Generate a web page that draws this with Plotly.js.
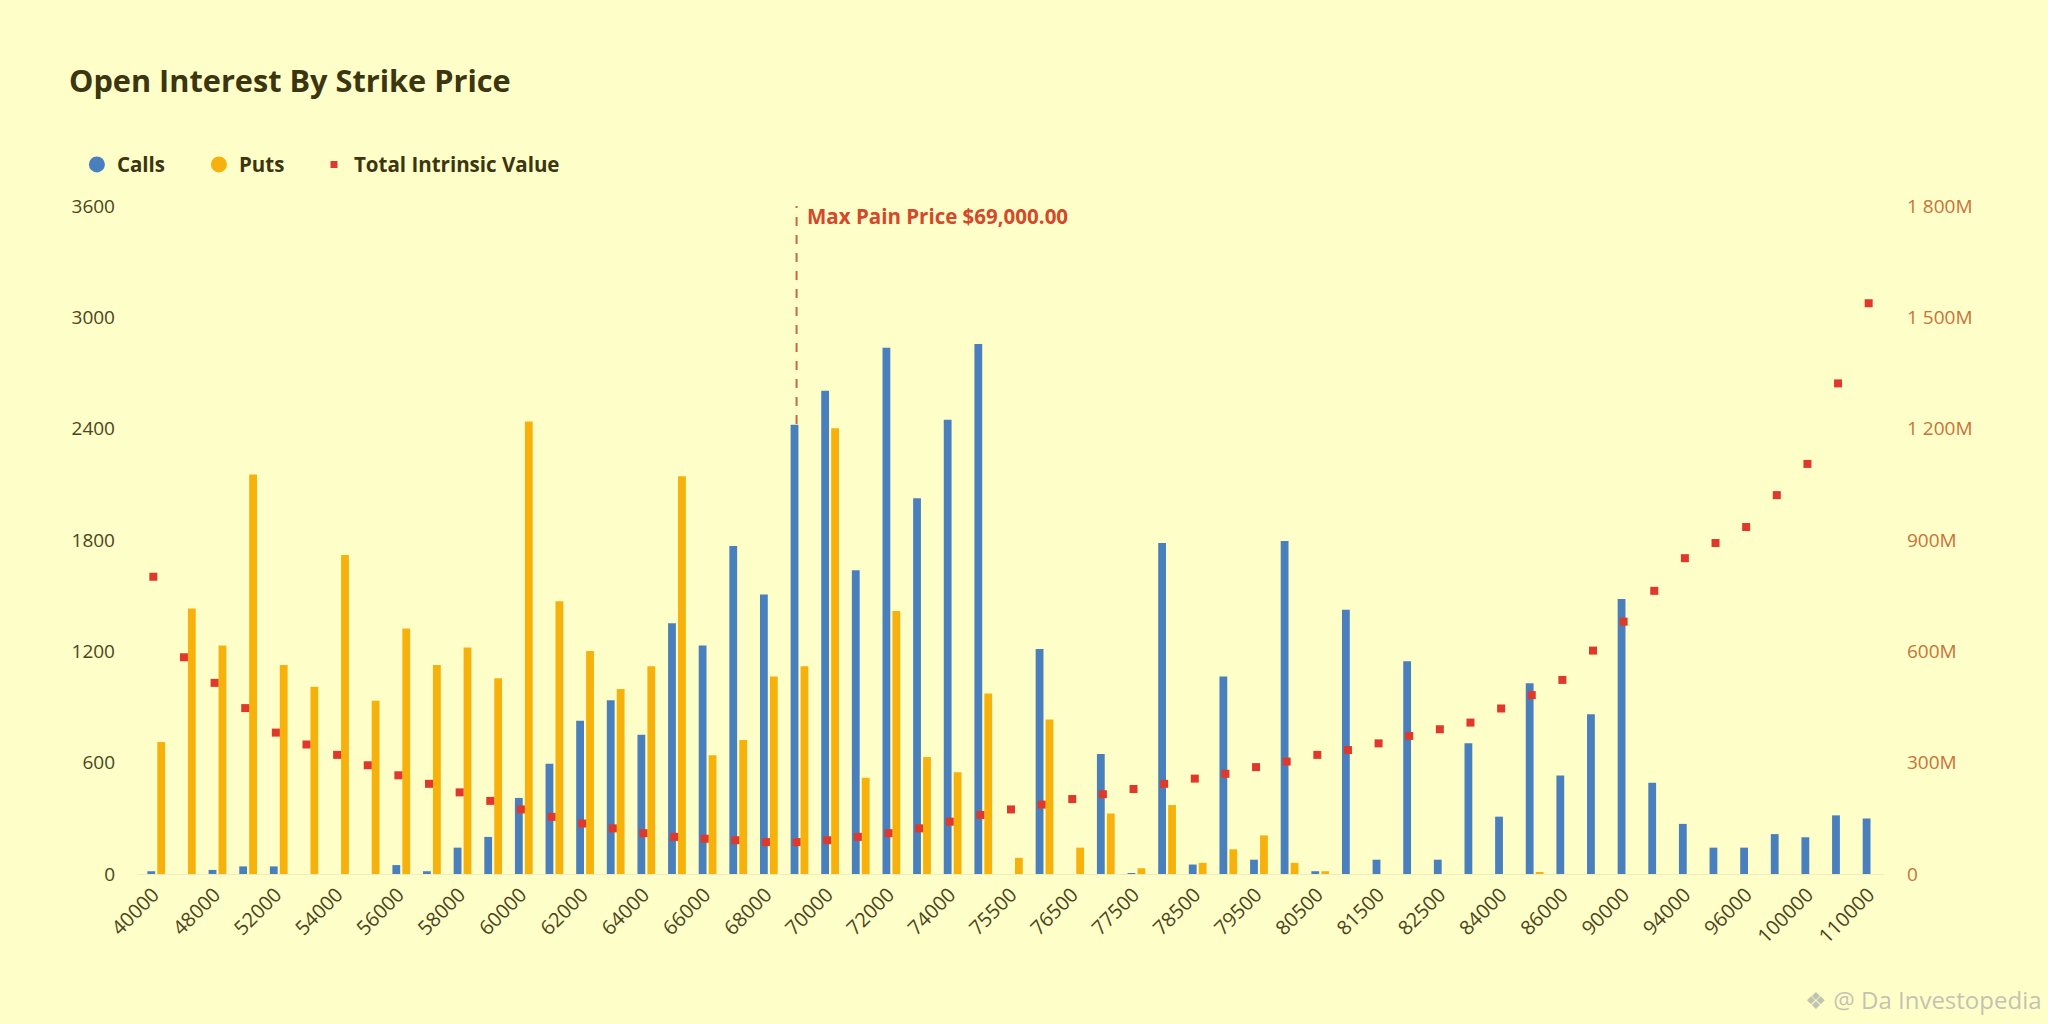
<!DOCTYPE html>
<html>
<head>
<meta charset="utf-8">
<script src="https://cdn.plot.ly/plotly-3.0.1.min.js"></script>
<style>
  html, body { margin: 0; padding: 0; background: #fefec8; }
  #chart { width: 2048px; height: 1024px; }
</style>
</head>
<body>
<div id="chart"></div>
<script>
// strike prices (category axis)
const strikes = [40000, 45000, 48000, 50000, 52000, 53000, 54000, 55000, 56000, 57000,
    58000, 59000, 60000, 61000, 62000, 63000, 64000, 65000, 66000, 67000,
    68000, 69000, 70000, 71000, 72000, 73000, 74000, 75000, 75500, 76000,
    76500, 77000, 77500, 78000, 78500, 79000, 79500, 80000, 80500, 81000,
    81500, 82000, 82500, 83000, 84000, 85000, 86000, 88000, 90000, 92000,
    94000, 95000, 96000, 98000, 100000, 105000, 110000];

// open interest
const calls = [15, 0, 22, 41, 41, 0, 0, 0, 48, 15,
    142, 200, 410, 594, 826, 937, 751, 1352, 1231, 1767,
    1506, 2421, 2605, 1637, 2836, 2025, 2448, 2856, 0, 1212,
    0, 647, 5, 1784, 51, 1065, 77, 1794, 15, 1424,
    77, 1147, 77, 705, 309, 1028, 531, 861, 1482, 492,
    270, 142, 142, 215, 198, 316, 299];
const puts = [712, 1431, 1231, 2153, 1127, 1009, 1719, 934, 1323, 1127,
    1221, 1055, 2438, 1470, 1202, 997, 1120, 2144, 640, 722,
    1065, 1120, 2402, 519, 1417, 630, 548, 973, 87, 833,
    142, 326, 31, 372, 60, 133, 208, 60, 15, 0,
    0, 0, 0, 0, 0, 10, 0, 0, 0, 0,
    0, 0, 0, 0, 0, 0, 0];

// total intrinsic value, in millions
const intrinsic = [801, 584, 515, 447, 381, 349, 321, 293, 266, 243,
    220, 197, 174, 154, 136, 123, 110, 100, 95, 91,
    86, 86, 91, 100, 110, 123, 141, 159, 174, 187,
    202, 215, 229, 243, 257, 270, 288, 303, 321, 334,
    352, 372, 390, 408, 446, 482, 523, 602, 680, 763,
    851, 892, 935, 1021, 1105, 1322, 1538];

const leftTicks = [0, 600, 1200, 1800, 2400, 3000, 3600];
const rightTicks = [0, 300, 600, 900, 1200, 1500, 1800];
const rightTickText = ["0", "300M", "600M", "900M", "1 200M", "1 500M", "1 800M"];

const maxPain = 69000;

const BLUE = "#4a7fbd";
const ORANGE = "#f6b10c";
const RED = "#e0392b";
const BG = "#fefec8";
const FONT = "Open Sans";

const xTicks = strikes.filter((s, i) => i % 2 === 0);
const painIdx = strikes.indexOf(maxPain);

// bars sit a little right of the category centre, dots on it
const BAR_W = 0.255;

const traces = [
    {
        x: strikes, y: calls, type: "bar", name: "Calls",
        width: BAR_W, offset: -0.195,
        marker: { color: BLUE }, showlegend: false
    },
    {
        x: strikes, y: puts, type: "bar", name: "Puts",
        width: BAR_W, offset: 0.13,
        marker: { color: ORANGE }, showlegend: false
    },
    {
        x: strikes, y: intrinsic, type: "scatter", mode: "markers",
        name: "Total Intrinsic Value", yaxis: "y2",
        marker: { color: RED, symbol: "square", size: 8 }, showlegend: false
    },
    // legend entries only, one legend each so they can be spaced like the original
    {
        x: [null], y: [null], type: "scatter", mode: "markers", name: "Calls",
        legend: "legend",
        marker: { color: BLUE, size: 20, symbol: "circle" }
    },
    {
        x: [null], y: [null], type: "scatter", mode: "markers", name: "Puts",
        legend: "legend2",
        marker: { color: ORANGE, size: 20, symbol: "circle" }
    },
    {
        x: [null], y: [null], type: "scatter", mode: "markers", name: "Total Intrinsic Value",
        legend: "legend3",
        marker: { color: RED, size: 7, symbol: "square" }
    }
];

function legendAt(x) {
    return {
        orientation: "h",
        x: x, xanchor: "left",
        y: 1.062, yanchor: "middle",
        font: { family: FONT, size: 20.5, color: "#3b3510", weight: "bold" },
        itemsizing: "trace",
        bgcolor: "rgba(0,0,0,0)"
    };
}

Plotly.newPlot("chart", traces, {
    width: 2048,
    height: 1024,
    paper_bgcolor: BG,
    plot_bgcolor: BG,
    font: { family: FONT, color: "#4b4520" },
    margin: { l: 138, r: 164, t: 206, b: 150 },
    barmode: "overlay",
    title: {
        text: "<b>Open Interest By Strike Price</b>",
        font: { family: FONT, size: 30.7, color: "#3b3510" },
        xref: "container", yref: "container",
        x: 69 / 2048, xanchor: "left",
        y: 1 - 81 / 1024, yanchor: "middle"
    },
    legend: legendAt(-0.035),
    legend2: legendAt(0.0349),
    legend3: legendAt(0.1008),
    xaxis: {
        type: "category",
        range: [-0.5, strikes.length - 0.5],
        tickmode: "array",
        tickvals: xTicks,
        ticktext: xTicks.map(String),
        tickangle: -45,
        tickfont: { size: 20, color: "#4b4520" },
        showgrid: false,
        zeroline: false,
        showline: true,
        linecolor: "#f0ecbc",
        linewidth: 1,
        ticks: ""
    },
    yaxis: {
        range: [0, 3600],
        tickmode: "array",
        tickvals: leftTicks,
        tickfont: { size: 19, color: "#4b4520" },
        showgrid: false,
        zeroline: false,
        ticklabelstandoff: 22
    },
    yaxis2: {
        overlaying: "y",
        side: "right",
        range: [0, 1800],
        tickmode: "array",
        tickvals: rightTicks,
        ticktext: rightTickText,
        tickfont: { size: 19, color: "#c8733a" },
        showgrid: false,
        zeroline: false,
        ticklabelstandoff: 22
    },
    shapes: [{
        type: "line", layer: "below",
        xref: "x", yref: "y",
        x0: painIdx, x1: painIdx,
        y0: 0, y1: 3600,
        line: { color: "#c46a45", width: 2, dash: "dash" }
    }],
    annotations: [
        {
            xref: "x", yref: "y",
            x: painIdx, y: 3600,
            xanchor: "left", yanchor: "middle",
            xshift: 8, yshift: -10,
            text: "<b>Max Pain Price $" + maxPain.toLocaleString("en-US") + ".00</b>",
            showarrow: false,
            font: { family: FONT, size: 20.5, color: "#d4482b" }
        },
        {
            xref: "paper", yref: "paper",
            x: 1.0915, y: -0.188,
            xanchor: "right", yanchor: "middle",
            text: "❖ @ Da Investopedia",
            showarrow: false,
            font: { family: FONT, size: 24, color: "rgba(175,175,170,0.75)" }
        }
    ]
}, { displayModeBar: false });
</script>
</body>
</html>
